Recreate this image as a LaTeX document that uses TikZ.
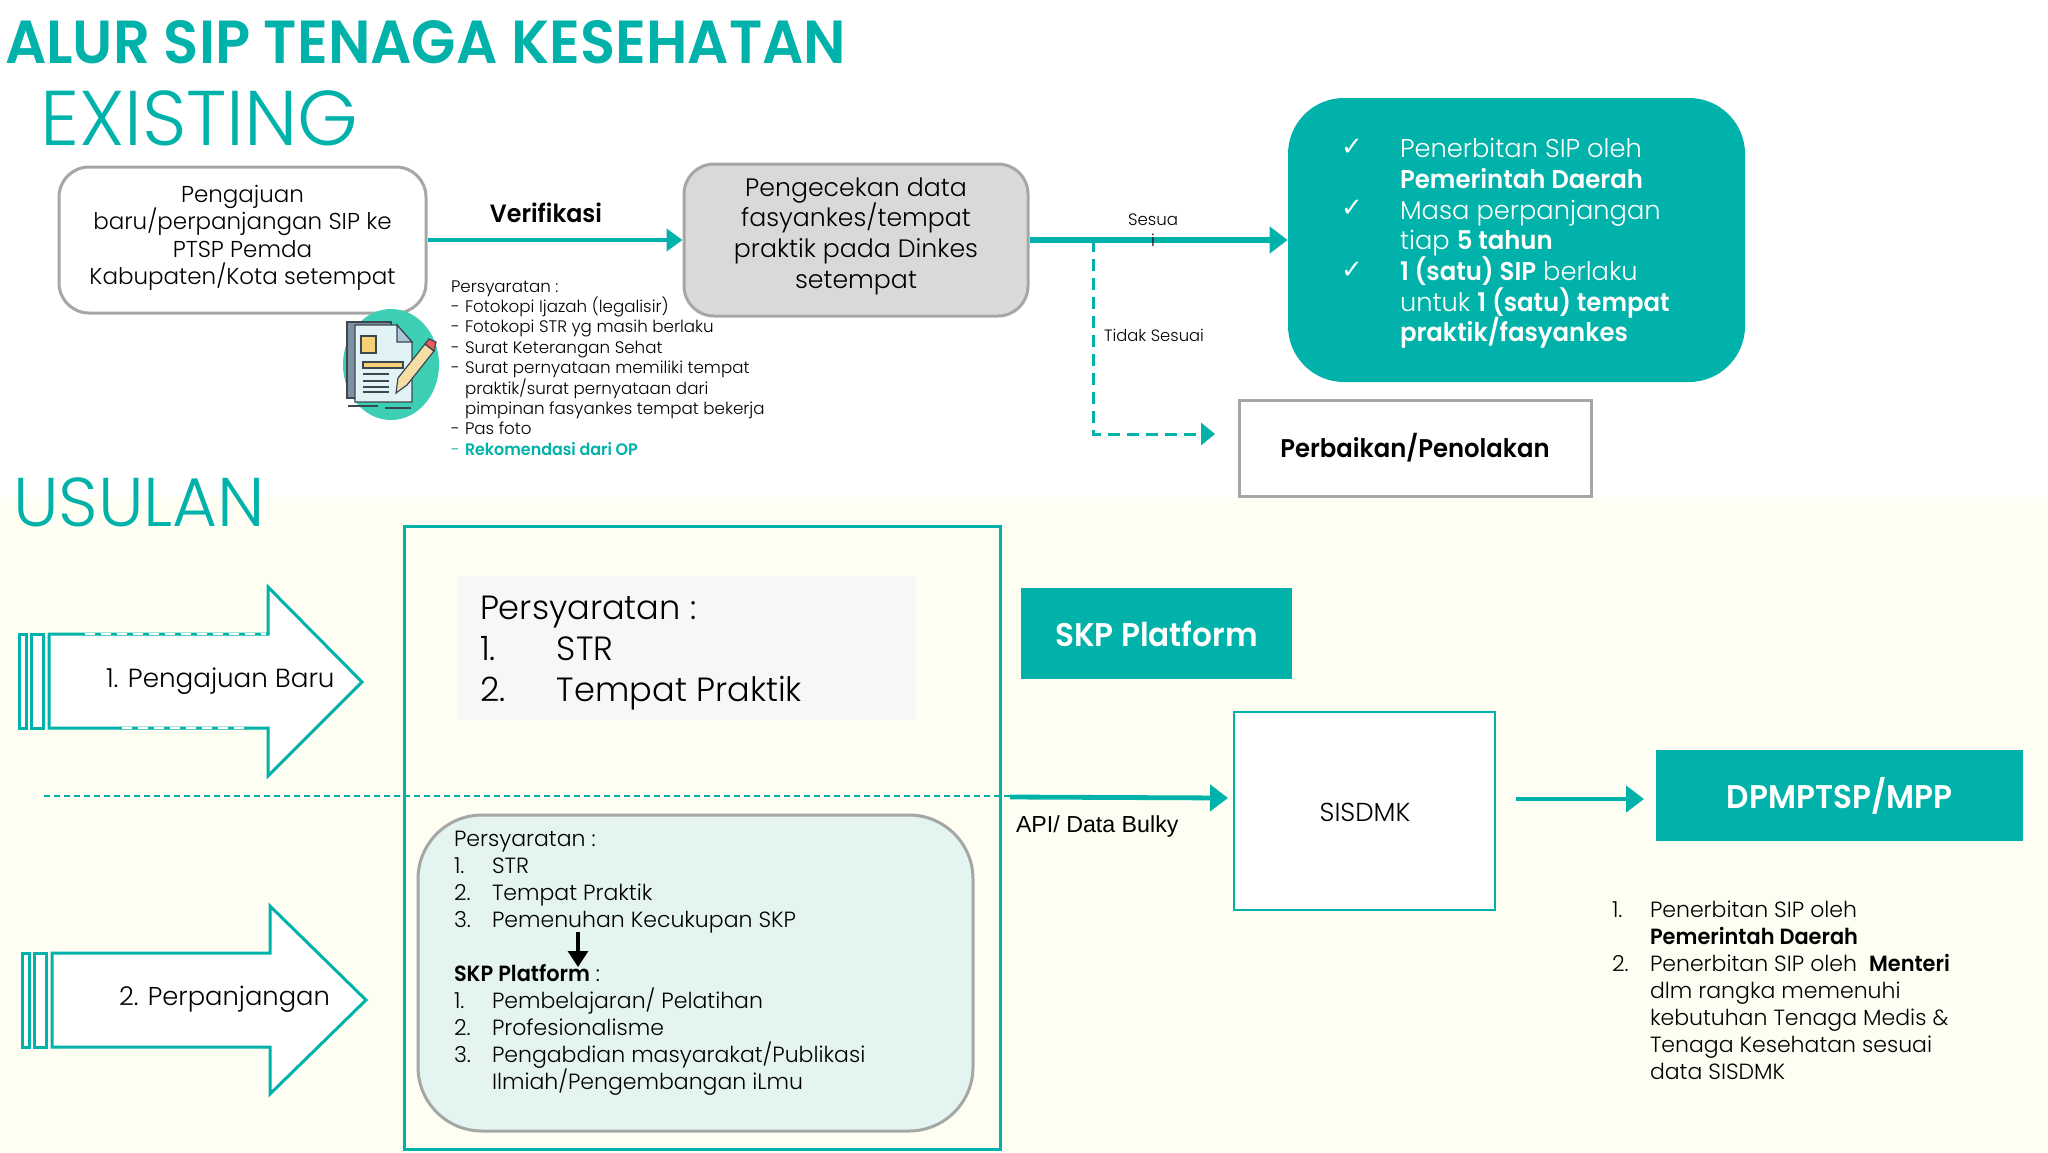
\documentclass[tikz,border=0pt]{standalone}
\usepackage{fontspec}
\setmainfont{Poppins}[UprightFont=* Light,BoldFont=* SemiBold,BoldFeatures={FakeStretch=0.95}]
\newfontfamily\arialf{Liberation Sans}
\newfontfamily\djv{DejaVu Sans}
\usetikzlibrary{arrows.meta,positioning,calc}
\definecolor{teal1}{HTML}{00B2A9}
\definecolor{grayline}{HTML}{A6A6A6}
\definecolor{cream}{HTML}{FEFEF3}
\definecolor{mintbox}{HTML}{E3F4F1}
\newcommand{\fs}[2]{\fontsize{#1}{#2}\selectfont\lineskiplimit=-20pt\relax}
\newcommand{\lab}[2]{\makebox[#1][l]{#2}}
\tikzset{
  x=0.5pt,y=-0.5pt,
  txt/.style={inner sep=0pt,outer sep=0pt,align=left,anchor=north west},
  rbox/.style={draw=grayline,line width=1.5pt,rounded corners=15pt,align=center,inner sep=0pt},
  tealfill/.style={fill=teal1,text=white,inner sep=0pt,align=center,font=\bfseries\fs{16.4}{19}},
  flow/.style={draw=teal1,line width=2pt,-{Triangle[length=8pt,width=11pt]}},
  flowthick/.style={draw=teal1,line width=2.8pt,-{Triangle[length=9pt,width=13pt]}},
  dashflow/.style={draw=teal1,line width=1.5pt,dash pattern=on 6pt off 3.5pt,-{Triangle[length=7pt,width=11pt]}},
  bigarrow/.style={draw=teal1,line width=1.5pt,fill=white,line join=miter},
}
\begin{document}
\begin{tikzpicture}
\useasboundingbox (0,0) rectangle (2048,1152);
\fill[white] (0,0) rectangle (2048,1152);
\fill[cream] (0,497) rectangle (2048,1152);
% headings
\node[txt,anchor=west,text=teal1,font=\bfseries\fs{30.4}{34}] (title) at (5,42) {ALUR SIP TENAGA KESEHATAN};
\node[txt,anchor=west,text=teal1,font=\fs{38.8}{42}] (existing) at (40,118) {EXISTING};
\node[txt,anchor=west,text=teal1,font=\fs{34.5}{38}] (usulan) at (13,502) {USULAN};
% existing flow
\node[rbox,fill=white,minimum width=183.5pt,minimum height=73pt] (a) at (242.5,240) {};
\node[align=center,inner sep=0pt,font=\fs{11.5}{13.75}] (atext) at (242.5,238) {Pengajuan\\baru/perpanjangan SIP ke\\PTSP Pemda\\Kabupaten/Kota setempat};
\node[rbox,fill=gray!30,minimum width=172pt,minimum height=76pt] (b) at (856,240) {};
\node[align=center,inner sep=0pt,font=\fs{12.6}{15.35}] (btext) at (856,236) {Pengecekan data\\fasyankes/tempat\\praktik pada Dinkes\\setempat};
\node[fill=teal1,rounded corners=28pt,minimum width=228.5pt,minimum height=142pt,inner sep=0pt] (c) at (1516.5,240) {};
\node[txt,text=white,font=\fs{12.85}{15.35},anchor=west] (ctext) at (1400,243.5)
  {Penerbitan SIP oleh\\\textbf{Pemerintah Daerah}\\Masa perpanjangan\\tiap \textbf{5 tahun}\\\textbf{1 (satu) SIP} berlaku\\untuk \textbf{1 (satu) tempat}\\\textbf{praktik/fasyankes}};
\node[text=white,font=\djv\fs{13}{14},inner sep=0pt] (ck1) at (1352,147) {✓};
\node[text=white,font=\djv\fs{13}{14},inner sep=0pt] (ck2) at (1352,208) {✓};
\node[text=white,font=\djv\fs{13}{14},inner sep=0pt] (ck3) at (1352,270) {✓};
\node[draw=grayline,line width=1.5pt,fill=white,minimum width=176pt,minimum height=48pt,inner sep=0pt,font=\bfseries\fs{12.8}{15}] (d) at (1415,448) {Perbaikan/Penolakan};
\draw[flow] (a.east) -- (b.west);
\draw[flowthick] (b.east) -- (c.west);
\coordinate (split) at (1093,240);
\coordinate (dend) at (1215,434);
\draw[dashflow] (split) |- (dend);
\node[font=\bfseries\fs{12.5}{15},inner sep=0pt] (verif) at (546,213) {Verifikasi};
\node[font=\fs{8.3}{10.4},inner sep=0pt,align=center] (sesuai) at (1153,230) {Sesua\\i};
\node[txt,anchor=west,font=\fs{8.2}{10}] (tidak) at (1104,335) {Tidak Sesuai};
\node[txt,anchor=north west,font=\fs{8.35}{10.2}] (syarat) at (451,280.5)
  {Persyaratan :\\
   \lab{7pt}{-}Fotokopi Ijazah (legalisir)\\
   \lab{7pt}{-}Fotokopi STR yg masih berlaku\\
   \lab{7pt}{-}Surat Keterangan Sehat\\
   \lab{7pt}{-}Surat pernyataan memiliki tempat\\
   \lab{7pt}{}praktik/surat pernyataan dari\\
   \lab{7pt}{}pimpinan fasyankes tempat bekerja\\
   \lab{7pt}{-}Pas foto\\
   \textcolor{teal1}{\lab{7pt}{-}\textbf{Rekomendasi dari OP}}};
% document icon
\fill[fill={rgb,255:red,60;green,207;blue,180}] (391,364.5) ellipse (48 and 55.5);
\begin{scope}[line width=.6pt,draw={rgb,255:red,60;green,70;blue,80}]
\filldraw[fill={rgb,255:red,125;green,145;blue,160}] (347,322) -- (391,322) -- (391,398) -- (347,398) -- cycle;
\filldraw[fill={rgb,255:red,225;green,243;blue,245}] (355,325) -- (397,325) -- (412,342) -- (412,402) -- (355,402) -- cycle;
\filldraw[fill={rgb,255:red,170;green,200;blue,215}] (397,325) -- (412,342) -- (397,342) -- cycle;
\filldraw[fill={rgb,255:red,248;green,208;blue,120}] (361,336) rectangle (376,353);
\filldraw[fill={rgb,255:red,248;green,208;blue,120}] (363,362) rectangle (403,368);
\draw[line width=1pt] (363,374) -- (389,374) (363,381) -- (389,381) (363,387) -- (389,387) (363,392) -- (389,392);
\filldraw[fill={rgb,255:red,245;green,222;blue,165}] (396,393) -- (398,378) -- (425,344) -- (434,351) -- (407,385) -- cycle;
\filldraw[fill={rgb,255:red,235;green,90;blue,90}] (425,344) -- (429,339) -- (436,342) -- (434,351) -- cycle;
\draw[line width=.8pt] (348,406) -- (378,406) (385,408) -- (411,408);
\end{scope}
% usulan frame
\node[draw=teal1,line width=1.5pt,minimum width=298pt,minimum height=311.5pt,inner sep=0pt] (frame) at (702,837.5) {};
\node[fill=gray!6,minimum width=229pt,minimum height=72pt,inner sep=0pt] (syarat2) at (687,648) {};
\node[txt,anchor=west,font=\fs{16.8}{20.6}] (syarat2t) at (480,653)
  {Persyaratan :\\\lab{38.5pt}{1.}STR\\\lab{38.5pt}{2.}Tempat Praktik};
\node[tealfill,minimum width=135.5pt,minimum height=45.5pt] (skp) at (1156.5,633.5) {SKP Platform};
\node[draw=teal1,line width=1.4pt,fill=white,minimum width=130.5pt,minimum height=99pt,inner sep=0pt] (sis) at (1364.5,811) {};
\node[inner sep=0pt,font=\fs{13}{15}] (sistext) at (1365,812) {SISDMK};
\node[tealfill,minimum width=183.5pt,minimum height=45.5pt] (dpm) at (1839.5,795.5) {DPMPTSP/MPP};
\node[rbox,fill=mintbox,rounded corners=32pt,minimum width=277.5pt,minimum height=158pt] (mint) at (695.5,973) {};
\node[txt,anchor=north west,font=\fs{11}{13.5}] (minttext) at (454,831)
  {Persyaratan :\\
   \lab{19pt}{1.}STR\\
   \lab{19pt}{2.}Tempat Praktik\\
   \lab{19pt}{3.}Pemenuhan Kecukupan SKP\\[13.5pt]
   \textbf{SKP Platform} :\\
   \lab{19pt}{1.}Pembelajaran/ Pelatihan\\
   \lab{19pt}{2.}Profesionalisme\\
   \lab{19pt}{3.}Pengabdian masyarakat/Publikasi\\
   \lab{19pt}{}Ilmiah/Pengembangan iLmu};
\coordinate (dn1) at (578,932);
\coordinate (dn2) at (578,967);
\draw[line width=1.6pt,-{Triangle[length=8pt,width=10pt]}] (dn1) -- (dn2);
% arrows on left
\begin{scope}
\draw[bigarrow] (19,634) rectangle (26,728);
\draw[bigarrow] (31,634) rectangle (43,728);
\filldraw[bigarrow] (49,634) -- (268,634) -- (268,587) -- (362,682) -- (268,776) -- (268,728) -- (49,728) -- cycle;
\draw[white,line width=1pt,dash pattern=on 5pt off 3pt] (85,634) -- (266,634) (122,728) -- (245,728);
\draw[bigarrow] (22,953) rectangle (29,1047);
\draw[bigarrow] (34,953) rectangle (46,1047);
\filldraw[bigarrow] (52,953) -- (270,953) -- (270,906) -- (366,1000) -- (270,1094) -- (270,1047) -- (52,1047) -- cycle;
\end{scope}
\node[txt,anchor=west,font=\fs{13.1}{16}] (a1) at (106,681) {1. Pengajuan Baru};
\node[txt,anchor=west,font=\fs{12.9}{16}] (a2) at (119,999) {2. Perpanjangan};
% dashed divider
\coordinate (divL) at (44,796);
\coordinate (divR) at (1010,796);
\draw[teal1,line width=.8pt,dash pattern=on 3pt off 2pt] (divL) -- (divR);
\coordinate (apiS) at (1010,797);
\coordinate (apiE) at (1228,798);
\draw[flowthick,line width=2.4pt] (apiS) -- (apiE);
\coordinate (sisS) at (1516,799);
\coordinate (sisE) at (1644,799);
\draw[flowthick,line width=2.4pt] (sisS) -- (sisE);
\node[txt,anchor=west,font=\arialf\fs{11.6}{13}] (api) at (1016,826) {API/ Data Bulky};
% right list
\node[txt,anchor=north west,font=\fs{11}{13.5}] (rlist) at (1612,901)
  {\lab{19pt}{1.}Penerbitan SIP oleh\\
   \lab{19pt}{}\textbf{Pemerintah Daerah}\\
   \lab{19pt}{2.}Penerbitan SIP oleh\ \ \textbf{Menteri}\\
   \lab{19pt}{}dlm rangka memenuhi\\
   \lab{19pt}{}kebutuhan Tenaga Medis \&\\
   \lab{19pt}{}Tenaga Kesehatan sesuai\\
   \lab{19pt}{}data SISDMK};
\end{tikzpicture}
\end{document}
